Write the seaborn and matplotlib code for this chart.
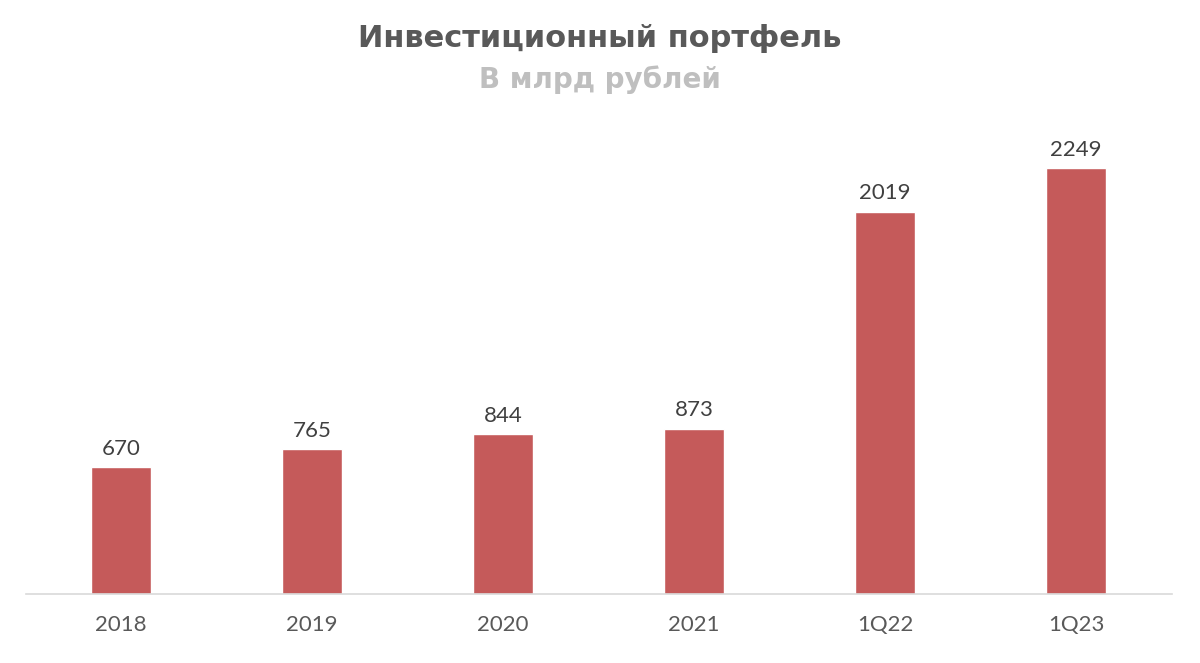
import pandas as pd
import matplotlib
matplotlib.use('Agg')
import matplotlib.pyplot as plt
import seaborn as sns

# Data
periods = ['2018', '2019', '2020', '2021', '1Q22', '1Q23']
portfolio = [670, 765, 844, 873, 2019, 2249]

df = pd.DataFrame({'period': periods, 'value': portfolio})

sns.set_theme(style='white')
plt.rcParams['font.family'] = ['Lato', 'DejaVu Sans']

fig = plt.figure(figsize=(12, 6.63), dpi=100)
ax = fig.add_axes([0.0213, 0.104, 0.955, 0.714])

sns.barplot(data=df, x='period', y='value', color='#C55A5A', width=0.31,
            saturation=1, ax=ax)

for i, v in enumerate(portfolio):
    ax.text(i, v + 45, str(v), ha='center', va='bottom', fontsize=16, color='#404040')

ax.set_xlim(-0.5, 5.5)
ax.set_ylim(0, 2500)
ax.set_xlabel('')
ax.set_ylabel('')
ax.set_yticks([])
ax.tick_params(axis='x', length=0, pad=15, labelsize=16, labelcolor='#595959')
for s in ['top', 'right', 'left']:
    ax.spines[s].set_visible(False)
ax.spines['bottom'].set_color('#D9D9D9')
ax.spines['bottom'].set_linewidth(1.2)

fig.text(0.5, 0.942, 'Инвестиционный портфель', ha='center', va='center',
         fontsize=22, fontweight='bold', color='#595959', family=['DejaVu Sans'])
fig.text(0.5, 0.88, 'В млрд рублей', ha='center', va='center',
         fontsize=20, fontweight='bold', color='#BFBFBF', family=['DejaVu Sans'])

fig.savefig('out.png', dpi=100, facecolor='white')
